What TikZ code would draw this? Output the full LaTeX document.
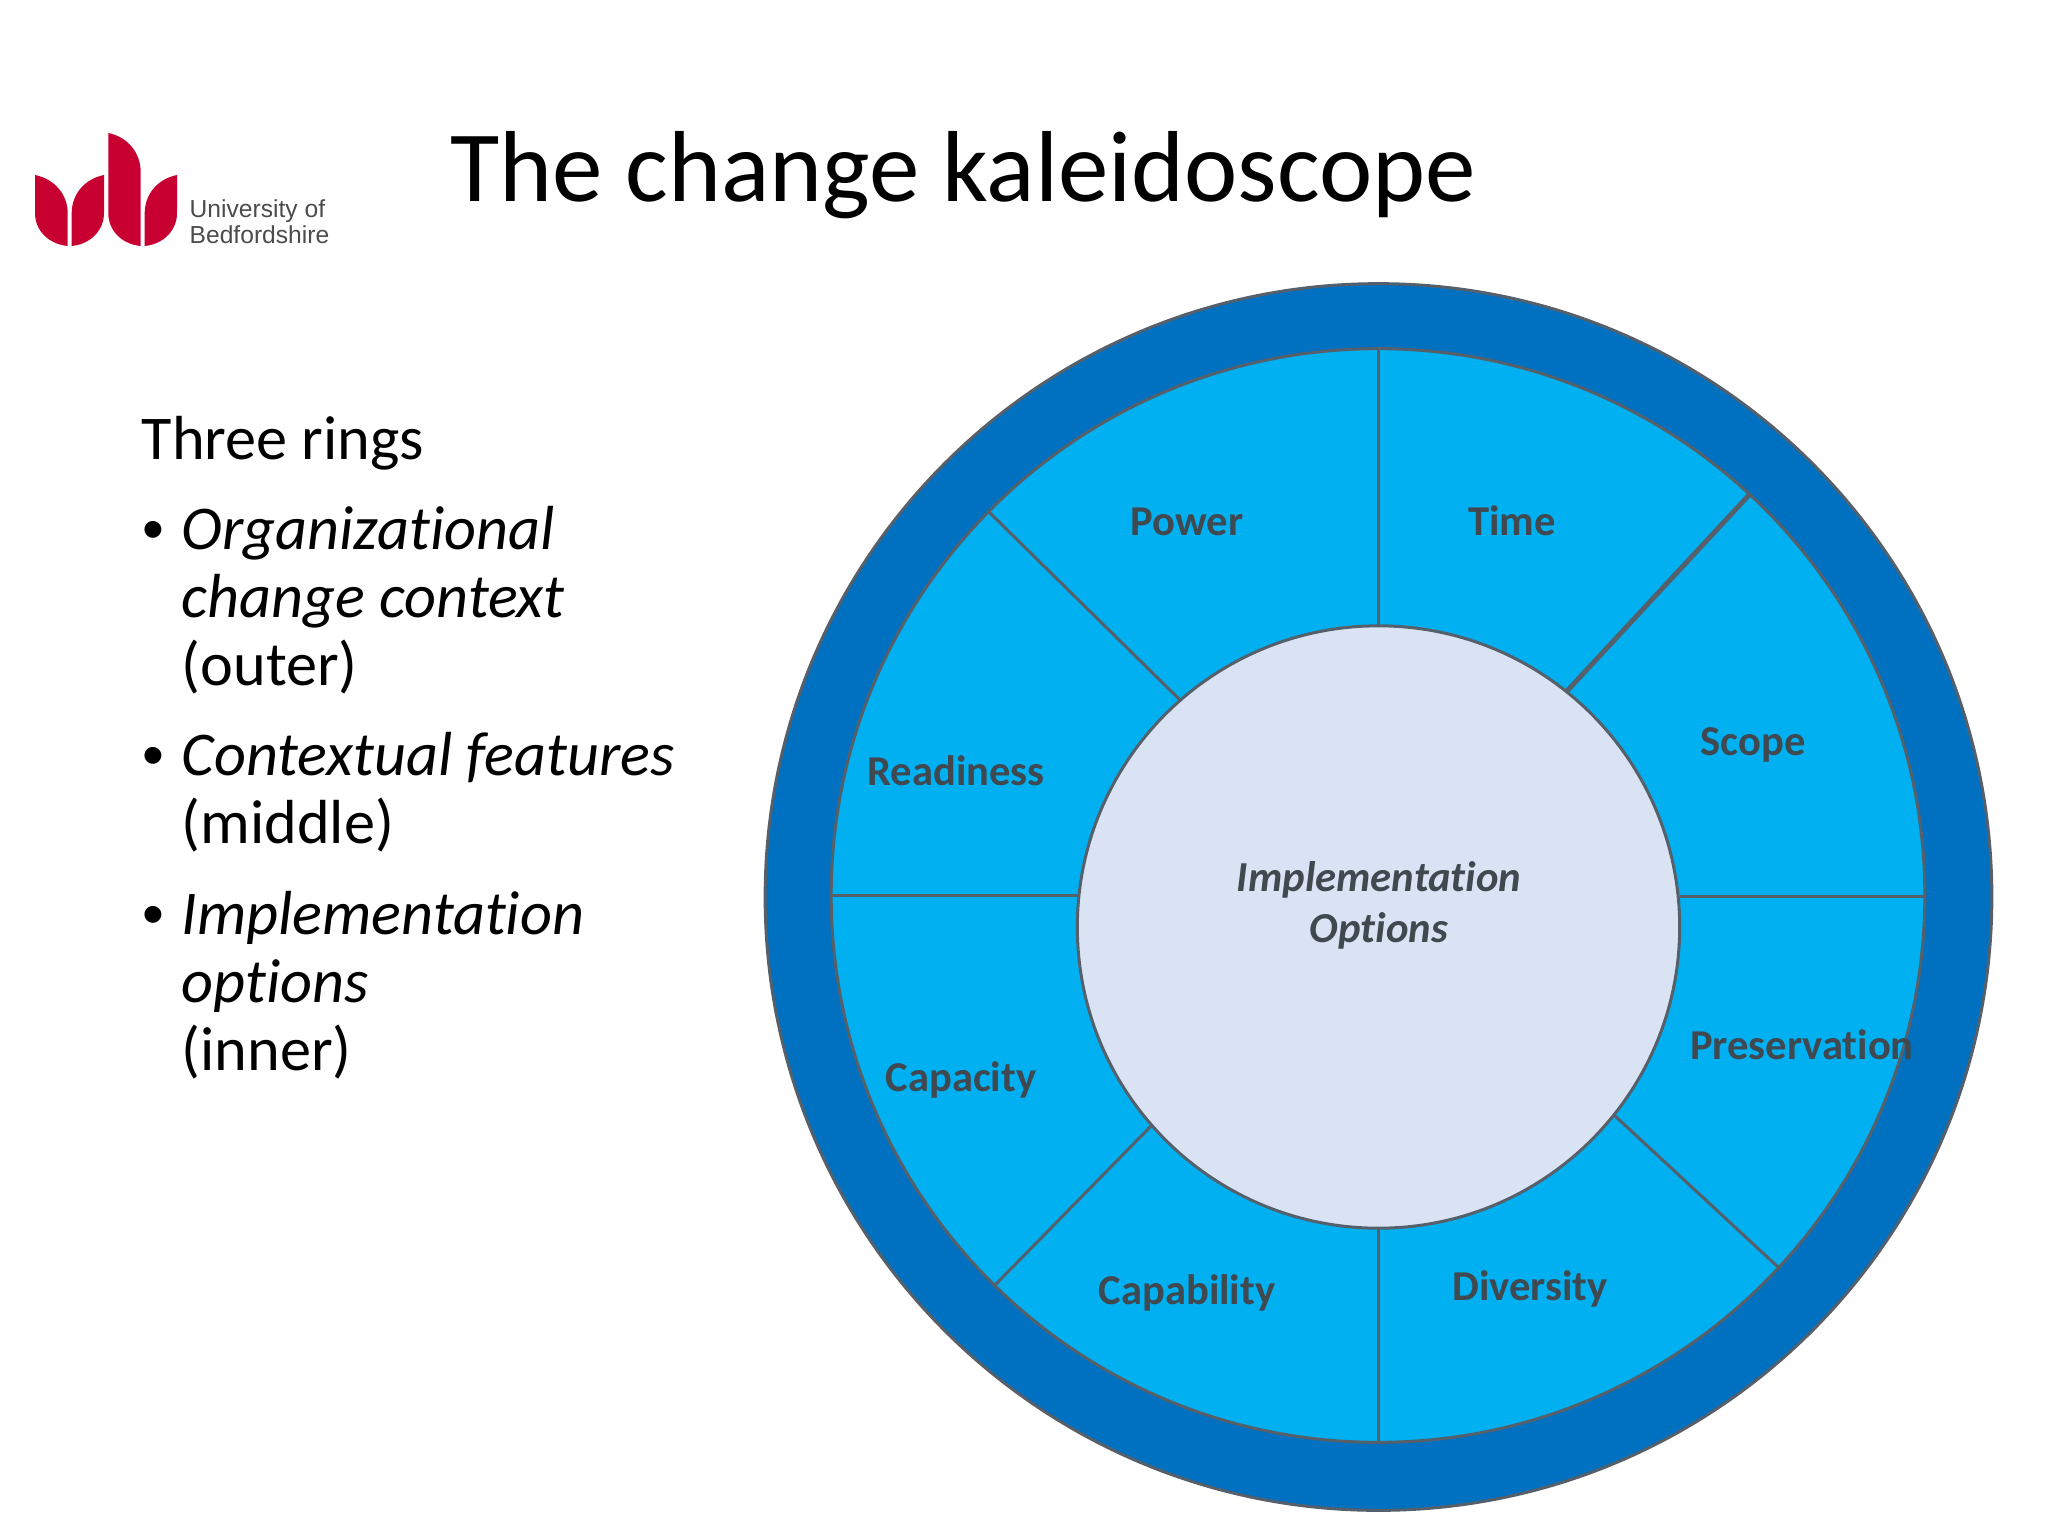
\documentclass[tikz,border=0pt]{standalone}
\usepackage{fontspec}
\usepackage{xcolor}
\setmainfont{Carlito}[Ligatures=NoCommon]
\newfontfamily\logofont{Liberation Sans}
\usetikzlibrary{shapes.geometric}
\definecolor{ringouter}{HTML}{0070C0}
\definecolor{ringmiddle}{HTML}{00B0F0}
\definecolor{ringinner}{HTML}{DAE3F3}
\definecolor{edgegrey}{HTML}{56606B}
\definecolor{labelgrey}{HTML}{404850}
\definecolor{logored}{HTML}{C80032}
\tikzstyle{ring} = [circle, inner sep=0pt, draw=edgegrey, line width=0.85pt]
\tikzstyle{spoke} = [draw=edgegrey, line width=0.85pt]
\tikzstyle{feature} = [inner sep=0pt, text=labelgrey, font=\fontsize{12.1}{14}\selectfont\bfseries]
\tikzstyle{listtext} = [inner sep=0pt, anchor=north west, align=left, text=black, font=\fontsize{17.7}{19.3}\selectfont]
\tikzstyle{dot} = [inner sep=0pt, anchor=base west, font=\fontsize{17.7}{19.3}\selectfont]
\tikzstyle{petal} = [fill=logored, draw=none]
\tikzstyle{logotext} = [inner sep=0pt, anchor=base west, text=black!70, font=\logofont\fontsize{7}{8}\selectfont]
\begin{document}
\begin{tikzpicture}[x=0.01cm, y=-0.01cm]
   \useasboundingbox (0,0) rectangle (2048,1536);
   % rings
   \node (outer) [ring, fill=ringouter, minimum size=12.26cm] at (1378.5,897) {};
   \node (middle) [ring, fill=ringmiddle, minimum size=10.93cm] at (1378,895.5) {};
   % spoke ends on the middle ring
   \coordinate (a1) at (1378,349);
   \coordinate (a2) at (1749,495);
   \coordinate (a3) at (1924,896);
   \coordinate (a4) at (1778,1267);
   \coordinate (a5) at (1378,1442);
   \coordinate (a6) at (995,1285);
   \coordinate (a7) at (831,895);
   \coordinate (a8) at (989,512);
   % spoke ends on the inner ring
   \coordinate (b1) at (1378,626);
   \coordinate (b2) at (1567,691);
   \coordinate (b3) at (1680,896);
   \coordinate (b4) at (1614,1115);
   \coordinate (b5) at (1378,1228);
   \coordinate (b6) at (1152,1125);
   \coordinate (b7) at (1079,895);
   \coordinate (b8) at (1179,699);
   \foreach \i in {1,...,8}
      \draw [spoke] (a\i) -- (b\i);
   \draw [spoke, line width=1.4pt] (a2) -- (b2);
   \node (inner) [ring, fill=ringinner, minimum size=6.02cm] at (1378.5,927) {};
   % features
   \node (power) [feature] at (1187,522) {Power};
   \node (time) [feature] at (1512,521) {Time};
   \node (scope) [feature] at (1753,745) {Scope};
   \node (preservation) [feature] at (1802,1045) {Preservation};
   \node (diversity) [feature] at (1530,1289) {Diversity};
   \node (capability) [feature] at (1187,1293) {Capability};
   \node (capacity) [feature] at (961,1080) {Capacity};
   \node (readiness) [feature] at (956,771) {Readiness};
   \node (options) [feature, align=center, font=\fontsize{12.15}{14.5}\selectfont\bfseries\itshape] at (1379,905) {Implementation\\Options};
   % title and list
   \node (title) [inner sep=0pt, anchor=base west, font=\fontsize{28.7}{30}\selectfont] at (450,201) {The change kaleidoscope};
   \node (rings) [dot] at (141,459.5) {Three rings};
   \node (dot1) [dot] at (142,550) {\logofont\textbullet};
   \node (dot2) [dot] at (142,776) {\logofont\textbullet};
   \node (dot3) [dot] at (142,935) {\logofont\textbullet};
   \node (context) [listtext] at (181,506) {\textit{Organizational}\\\textit{change context}\\(outer)};
   \node (contextual) [listtext] at (181,731.5) {\textit{Contextual features}\\(middle)};
   \node (implementation) [listtext] at (181,890.5) {\textit{Implementation}\\\textit{options}\\(inner)};
   % logo
   \fill [petal] (35,175) .. controls (55,179) and (67.7,195) .. (67.7,213) -- (67.7,246) .. controls (48,244) and (35,230) .. (35,213) -- cycle;
   \fill [petal] (104,175) .. controls (84,179) and (71.7,195) .. (71.7,213) -- (71.7,246) .. controls (91,244) and (104,230) .. (104,213) -- cycle;
   \fill [petal] (108.3,133) .. controls (128,137) and (140.7,153) .. (140.7,172) -- (140.7,246) .. controls (121,244) and (108.3,230) .. (108.3,213) -- cycle;
   \fill [petal] (177,175) .. controls (157,179) and (144.7,195) .. (144.7,213) -- (144.7,246) .. controls (164,244) and (177,230) .. (177,213) -- cycle;
   \node (university) [logotext] at (189,217) {University of};
   \node (bedfordshire) [logotext] at (189,243) {Bedfordshire};
\end{tikzpicture}
\end{document}
